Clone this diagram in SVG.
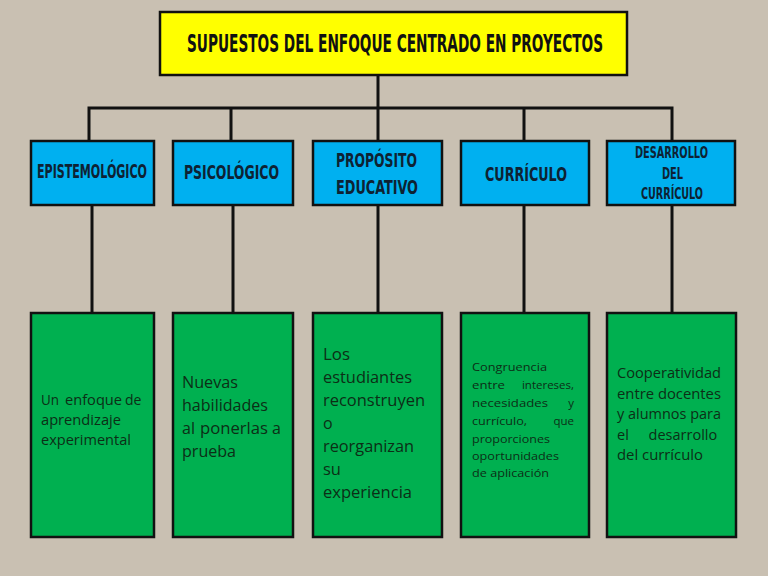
<svg xmlns="http://www.w3.org/2000/svg" width="768" height="576" viewBox="0 0 768 576">
<style>
.bg{fill:#c9c0b2}
.title{fill:#ffff00;stroke:#111;stroke-width:2.5}
.cat{fill:#00b0f0;stroke:#111;stroke-width:2.5}
.desc{fill:#00b050;stroke:#111;stroke-width:2.5}
.conn{fill:none;stroke:#111;stroke-width:3}
.h{font-family:"DejaVu Sans Condensed","DejaVu Sans","Liberation Sans",sans-serif;font-stretch:condensed;font-weight:bold;fill:#0e2233}
.t{font-family:"Open Sans","Liberation Sans",sans-serif;fill:#0c2e16}
</style>
<rect class="bg" x="0" y="0" width="768" height="576"/>
<g id="connectors">
<path class="conn" d="M378 75V108M89 141V108H672V141M231 108V141M378 108V141M524 108V141"/>
<path class="conn" d="M92 205V313M233 205V313M378 205V313M524 205V313M672 205V313"/>
</g>
<g id="title">
<rect class="title" x="160" y="12" width="467" height="63"/>
<text class="h" x="187" y="52" font-size="24" textLength="416" lengthAdjust="spacingAndGlyphs" style="fill:#111">SUPUESTOS DEL ENFOQUE CENTRADO EN PROYECTOS</text>
</g>
<g id="epistemologico">
<rect class="cat" x="31" y="141" width="123" height="64"/>
<text class="h" x="37" y="178" font-size="19" textLength="110" lengthAdjust="spacingAndGlyphs">EPISTEMOLÓGICO</text>
</g>
<g id="psicologico">
<rect class="cat" x="173" y="141" width="120" height="64"/>
<text class="h" x="184" y="179" font-size="20" textLength="95" lengthAdjust="spacingAndGlyphs">PSICOLÓGICO</text>
</g>
<g id="proposito">
<rect class="cat" x="313" y="141" width="129" height="64"/>
<text class="h" x="336" y="167" font-size="19" textLength="81" lengthAdjust="spacingAndGlyphs">PROPÓSITO</text>
<text class="h" x="336" y="194" font-size="19" textLength="82" lengthAdjust="spacingAndGlyphs">EDUCATIVO</text>
</g>
<g id="curriculo">
<rect class="cat" x="461" y="141" width="128" height="64"/>
<text class="h" x="485" y="181" font-size="20" textLength="82" lengthAdjust="spacingAndGlyphs">CURRÍCULO</text>
</g>
<g id="desarrollo">
<rect class="cat" x="607" y="141" width="128" height="64"/>
<text class="h" x="635" y="158" font-size="16" textLength="73" lengthAdjust="spacingAndGlyphs">DESARROLLO</text>
<text class="h" x="662" y="179" font-size="16" textLength="21" lengthAdjust="spacingAndGlyphs">DEL</text>
<text class="h" x="641" y="199" font-size="16" textLength="62" lengthAdjust="spacingAndGlyphs">CURRÍCULO</text>
</g>
<g id="desc1">
<rect class="desc" x="31" y="313" width="123" height="224"/>
<text class="t" font-size="14">
<tspan x="41" y="405" textLength="18" lengthAdjust="spacingAndGlyphs">Un</tspan><tspan x="65" y="405" textLength="57" lengthAdjust="spacingAndGlyphs">enfoque</tspan><tspan x="145" y="405" text-anchor="end">de</tspan>
<tspan x="41" y="425" textLength="80" lengthAdjust="spacingAndGlyphs">aprendizaje</tspan>
<tspan x="41" y="445" textLength="90" lengthAdjust="spacingAndGlyphs">experimental</tspan>
</text>
</g>
<g id="desc2">
<rect class="desc" x="173" y="313" width="120" height="224"/>
<text class="t" font-size="16">
<tspan x="182" y="388" textLength="56" lengthAdjust="spacingAndGlyphs">Nuevas</tspan>
<tspan x="182" y="411" textLength="86" lengthAdjust="spacingAndGlyphs">habilidades</tspan>
<tspan x="182" y="434">al</tspan><tspan x="200" y="434" textLength="68" lengthAdjust="spacingAndGlyphs">ponerlas</tspan><tspan x="285" y="434" text-anchor="end">a</tspan>
<tspan x="182" y="457" textLength="54" lengthAdjust="spacingAndGlyphs">prueba</tspan>
</text>
</g>
<g id="desc3">
<rect class="desc" x="313" y="313" width="129" height="224"/>
<text class="t" font-size="16">
<tspan x="323" y="360" textLength="27" lengthAdjust="spacingAndGlyphs">Los</tspan>
<tspan x="323" y="383" textLength="89" lengthAdjust="spacingAndGlyphs">estudiantes</tspan>
<tspan x="323" y="406" textLength="102" lengthAdjust="spacingAndGlyphs">reconstruyen</tspan>
<tspan x="323" y="429">o</tspan>
<tspan x="323" y="452" textLength="91" lengthAdjust="spacingAndGlyphs">reorganizan</tspan>
<tspan x="323" y="475" textLength="18" lengthAdjust="spacingAndGlyphs">su</tspan>
<tspan x="323" y="498" textLength="89" lengthAdjust="spacingAndGlyphs">experiencia</tspan>
</text>
</g>
<g id="desc4">
<rect class="desc" x="461" y="313" width="128" height="224"/>
<text class="t" font-size="11.5">
<tspan x="472" y="371" textLength="75" lengthAdjust="spacingAndGlyphs">Congruencia</tspan>
<tspan x="472" y="389" textLength="33" lengthAdjust="spacingAndGlyphs">entre</tspan><tspan x="577" y="389" text-anchor="end">intereses,</tspan>
<tspan x="472" y="407" textLength="76" lengthAdjust="spacingAndGlyphs">necesidades</tspan><tspan x="577" y="407" text-anchor="end">y</tspan>
<tspan x="472" y="425" textLength="55" lengthAdjust="spacingAndGlyphs">currículo,</tspan><tspan x="577" y="425" text-anchor="end">que</tspan>
<tspan x="472" y="443" textLength="78" lengthAdjust="spacingAndGlyphs">proporciones</tspan>
<tspan x="472" y="460" textLength="87" lengthAdjust="spacingAndGlyphs">oportunidades</tspan>
<tspan x="472" y="477" textLength="77" lengthAdjust="spacingAndGlyphs">de aplicación</tspan>
</text>
</g>
<g id="desc5">
<rect class="desc" x="607" y="313" width="129" height="224"/>
<text class="t" font-size="14.5">
<tspan x="617" y="378" textLength="104" lengthAdjust="spacingAndGlyphs">Cooperatividad</tspan>
<tspan x="617" y="399" textLength="104" lengthAdjust="spacingAndGlyphs">entre docentes</tspan>
<tspan x="617" y="419" textLength="104" lengthAdjust="spacingAndGlyphs">y alumnos para</tspan>
<tspan x="617" y="440">el</tspan><tspan x="721" y="440" text-anchor="end">desarrollo</tspan>
<tspan x="617" y="460" textLength="86" lengthAdjust="spacingAndGlyphs">del currículo</tspan>
</text>
</g>
</svg>
